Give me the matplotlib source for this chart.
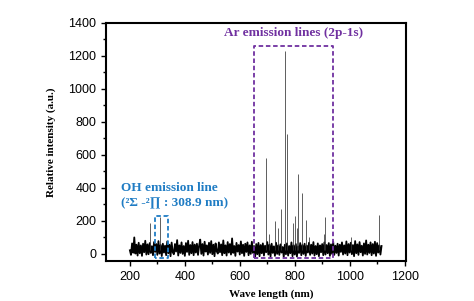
import matplotlib.pyplot as plt
import numpy as np

# Baseline spectrum, 200-1116 nm in 4 nm steps
wl_start, wl_step = 200, 4
baseline = [
    20, -8, 62, 5, 98, 0, 54, -12, 66, 2, 50, -14, 60, 8, 78, -6, 56, -4, 64, 4,
    45, -10, 70, 10, 58, -8, 76, 0, 52, -15, 60, 6, 48, -10, 74, 2, 54, -16, 67, 8,
    -4, 58, 12, 82, -12, 50, 4, 68, -2, 46, -14, 64, 10, 78, -8, 52, 2, 70, -10, 55,
    6, 60, -8, 48, 85, -2, 58, -12, 72, 12, 50, -6, 66, 4, 76, -4, 54, -16, 62, 14,
    0, 68, 8, 56, -10, 80, 2, 50, -12, 70, 6, 58, -6, 92, 4, 46, -14, 65, 12, 52,
    -6, 74, 2, 54, -14, 60, 10, 68, -10, 50, -2, 72, 4, 46, -18, 58, -4, 65, -16, 52,
    2, 62, -12, 48, 8, 70, -6, 54, -18, 60, 4, 44, -14, 66, -2, 50, -8, 56, 6, 40,
    -20, 54, -4, 62, -12, 46, 2, 68, -16, 50, -6, 58, -18, 44, 4, 64, -10, 52, -2, 60,
    -14, 48, 6, 66, -8, 54, 0, 70, -12, 46, -4, 62, -16, 50, 8, 58, -10, 68, -6, 52,
    2, 64, -14, 56, -2, 72, -8, 48, 4, 60, -12, 54, 10, 68, -6, 50, 0, 74, -10, 58,
    6, 66, -4, 52, -16, 76, 2, 56, -8, 70, 8, 48, -12, 62, -2, 80, -6, 54, 4, 68,
    -10, 58, 0, 72, -14, 64, 6, 50, -6, 46,
]
wavelength = wl_start + wl_step * np.arange(len(baseline))

# Emission peaks (nm, intensity)
peak_nm = [275, 309, 696, 706, 727, 738, 751, 763, 772, 794, 801, 810, 811,
           826, 842, 852, 905, 912, 1005, 1108]
peak_int = [183, 225, 582, 120, 195, 158, 272, 1231, 728, 187, 229, 154, 481,
            367, 201, 103, 116, 221, 103, 235]

serif = ['Liberation Serif', 'DejaVu Serif']
plt.rcParams['font.family'] = ['Liberation Sans', 'DejaVu Sans']

fig = plt.figure(figsize=(4.74, 3.01), dpi=100)
ax = fig.add_axes([0.2236, 0.1329, 0.6329, 0.7907])

ax.plot(wavelength, baseline, color='black', lw=1.3)
ax.vlines(peak_nm, 20, peak_int, color='#333333', lw=0.55)

# dashed boxes
ar_col = '#7030A0'
oh_col = '#1F7CC4'
ax.plot([650, 650, 940, 940, 650], [-25, 1260, 1260, -25, -25],
        color=ar_col, ls='--', lw=1.3, dashes=(2.5, 1.5))
ax.plot([292, 292, 340, 340, 292], [-26, 231, 231, -26, -26],
        color=oh_col, ls='--', lw=1.3, dashes=(2.5, 1.5))

ax.text(795, 1340, 'Ar emission lines (2p-1s)', color=ar_col, fontsize=9.5,
        fontweight='bold', family=serif, ha='center', va='center')
ax.text(166, 396, 'OH emission line', color=oh_col, fontsize=9.5,
        fontweight='bold', family=serif, ha='left', va='center')
ax.text(166, 304, '(²Σ -²∏ : 308.9 nm)', color=oh_col, fontsize=9.5,
        fontweight='bold', family=serif, ha='left', va='center')

ax.set_xlim(113, 1205)
ax.set_ylim(-45, 1400)
ax.set_xticks([200, 400, 600, 800, 1000, 1200])
ax.set_xticks([300, 500, 700, 900, 1100], minor=True)
ax.set_yticks([0, 200, 400, 600, 800, 1000, 1200, 1400])
ax.set_yticks([100, 300, 500, 700, 900, 1100, 1300], minor=True)
ax.tick_params(which='major', direction='out', length=3.5, width=1, labelsize=9)
ax.tick_params(which='minor', direction='out', length=2, width=1)
for s in ax.spines.values():
    s.set_linewidth(1.5)

ax.set_xlabel('Wave length (nm)', fontsize=8, fontweight='bold', family=serif)
ax.set_ylabel('Relative intensity (a.u.)', fontsize=8, fontweight='bold', family=serif)
ax.xaxis.set_label_coords(0.55, -0.12)
ax.yaxis.set_label_coords(-0.165, 0.5)

fig.savefig('out.png', dpi=100)
